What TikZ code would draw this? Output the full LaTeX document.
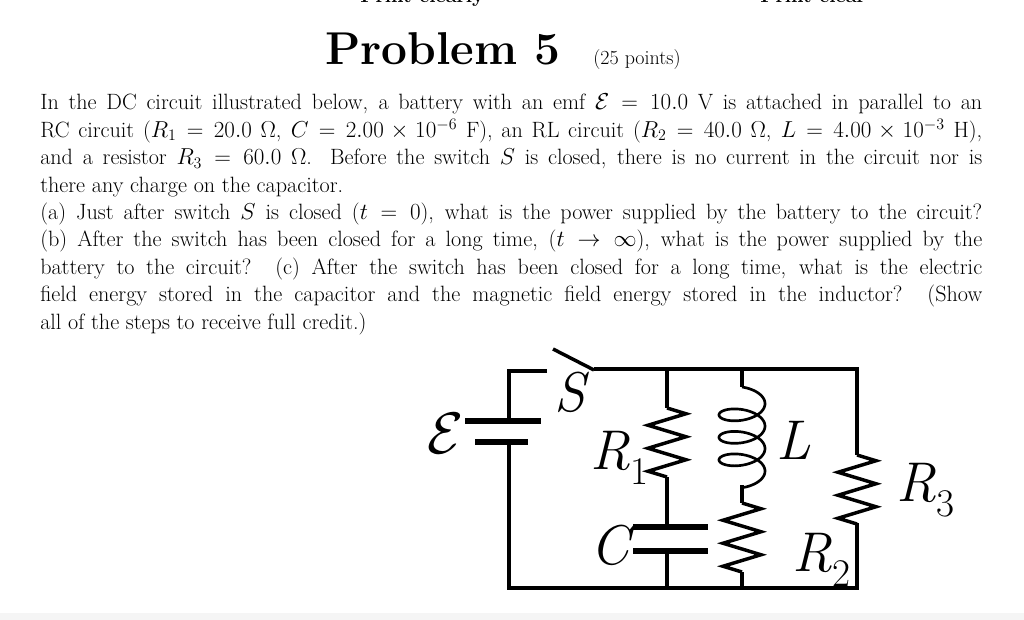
\documentclass[tikz,border=0pt]{standalone}
\usepackage{fontspec}
\begin{document}
\begin{tikzpicture}[x=0.75pt,y=-0.75pt,
  w/.style={line width=2.6pt},
  plate/.style={line width=4.2pt},
  lab/.style={font=\fontsize{42}{42}\selectfont\itshape,inner sep=0},
  txt/.style={anchor=base west,inner sep=0,font=\fontsize{16.6}{18}\selectfont},
  pics/res/.style={code={\draw[w,line join=miter] (0,0) -- ++(19,5.75) -- ++(-38,11.5) -- ++(38,11.5) -- ++(-38,11.5) -- ++(38,11.5) -- ++(-38,11.5) -- ++(19,5.75);}}]
\useasboundingbox (0,0) rectangle (1024,620);
\clip (0,0) rectangle (1024,620);
\fill[gray!8] (0,613) rectangle (1024,620);
\node[anchor=base west,inner sep=0,font=\fontsize{15}{18}\selectfont\bfseries] (pc1) at (360,3) {Print clearly};
\node[anchor=base west,inner sep=0,font=\fontsize{15}{18}\selectfont\bfseries] (pc2) at (760,3) {Print clear};
\node[anchor=base west,inner sep=0,font=\fontsize{34.5}{40}\selectfont\bfseries] (title) at (325,65) {Problem 5};
\node[anchor=base west,inner sep=0,font=\fontsize{15}{18}\selectfont] (pts) at (593,65) {(25 points)};
\node[txt] (l1) at (40,110) {\makebox[706.5pt][s]{In the DC circuit illustrated below, a battery with an emf $\mathcal{E}=10.0$ V is attached in parallel to an}};
\node[txt] (l2) at (40,137.4) {\makebox[706.5pt][s]{RC circuit ($R_1=20.0$ $\Omega$, $C=2.00\times10^{-6}$ F), an RL circuit ($R_2=40.0$ $\Omega$, $L=4.00\times10^{-3}$ H),}};
\node[txt] (l3) at (40,164.8) {\makebox[706.5pt][s]{and a resistor $R_3=60.0$ $\Omega$. Before the switch $S$ is closed, there is no current in the circuit nor is}};
\node[txt] (l4) at (40,192.2) {there any charge on the capacitor.};
\node[txt] (l5) at (40,219.6) {\makebox[706.5pt][s]{(a) Just after switch $S$ is closed ($t=0$), what is the power supplied by the battery to the circuit?}};
\node[txt] (l6) at (40,247) {\makebox[706.5pt][s]{(b) After the switch has been closed for a long time, ($t\rightarrow\infty$), what is the power supplied by the}};
\node[txt] (l7) at (40,274.4) {\makebox[706.5pt][s]{battery to the circuit? (c) After the switch has been closed for a long time, what is the electric}};
\node[txt] (l8) at (40,301.8) {\makebox[706.5pt][s]{field energy stored in the capacitor and the magnetic field energy stored in the inductor? (Show}};
\node[txt] (l9) at (40,329.2) {all of the steps to receive full credit.)};
% circuit
\coordinate (sw) at (547,371);
\draw[w] (sw) -- (509,371) -- (509,421);
\draw[w] (509,442) -- (509,588) -- (857,588) -- (857,523);
\draw[plate] (465,421) -- (541,421);
\draw[plate] (475,442) -- (528,442);
\draw[w] (553,349) -- (594,370);
\draw[w] (594,369) -- (857,369) -- (857,455);
\pic at (857,455) {res};
\draw[w] (667,369) -- (667,408);
\pic at (667,408) {res};
\draw[w] (667,477) -- (667,527);
\draw[plate] (633,527) -- (708,527);
\draw[plate] (633,551) -- (708,551);
\draw[w] (667,551) -- (667,588);
\draw[w] (742,369) -- (742,387);
\draw[w,line width=2pt,samples=200,domain=0:1260,smooth] plot ({742+23*sin(\x)},{387+\x/360*22.5+11*(1-cos(\x))});
\draw[w] (742,485) -- (742,503);
\pic at (742,503) {res};
\draw[w] (742,572) -- (742,588);
\node[lab] (S) at (570,392) {S};
\node[inner sep=0,font=\fontsize{40}{40}\selectfont] (E) at (446,433) {\resizebox{!}{30pt}{$\mathcal{E}$}};
\node[lab] (R1) at (620,458) {R\textsubscript{\upshape 1}};
\node[lab] (L) at (794,440) {L};
\node[lab] (R3) at (926,490) {R\textsubscript{\upshape 3}};
\node[lab] (C) at (610,545) {C};
\node[lab] (R2) at (822,560) {R\textsubscript{\upshape 2}};
\end{tikzpicture}
\end{document}
